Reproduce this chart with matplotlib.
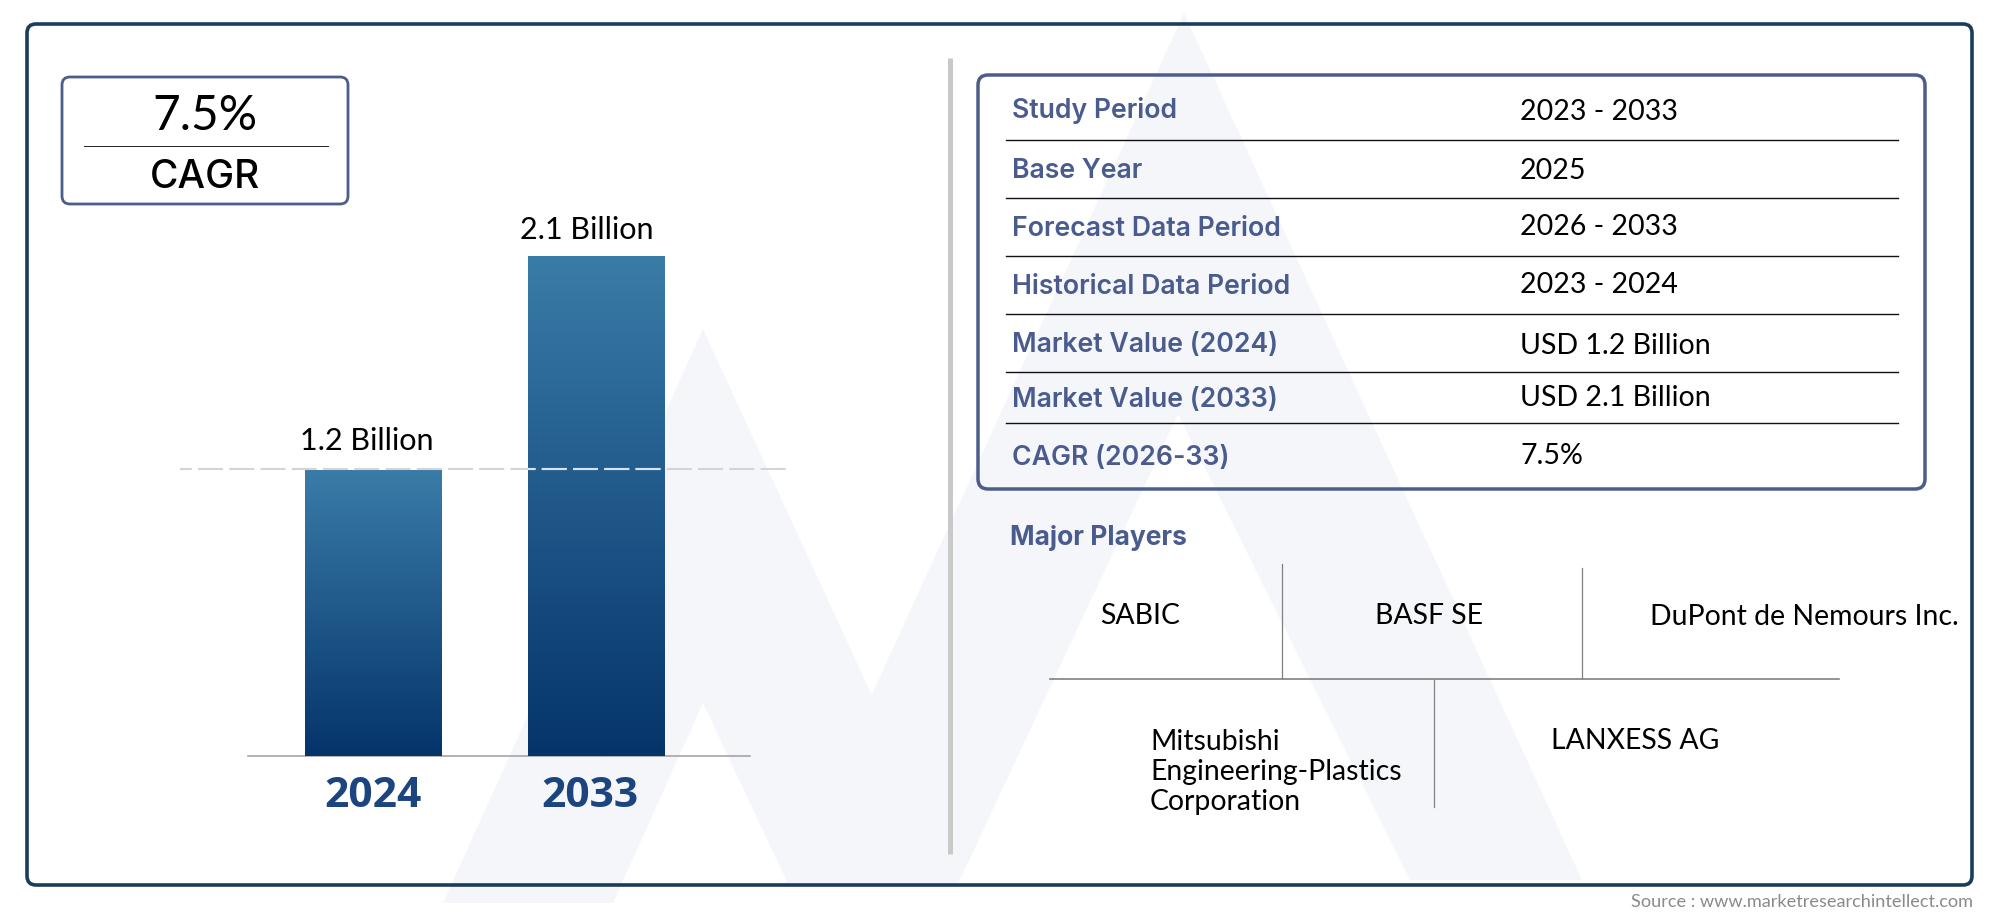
import numpy as np
import matplotlib
matplotlib.use("Agg")
import matplotlib.pyplot as plt
from matplotlib.patches import FancyBboxPatch, Polygon
from matplotlib.colors import LinearSegmentedColormap
from matplotlib.transforms import blended_transform_factory, ScaledTranslation

# ---------- data ----------
years = ["2024", "2033"]
market_values = [1.2, 2.1]
value_labels = ["1.2 Billion", "2.1 Billion"]
cagr_value = "7.5%"
cagr_label = "CAGR"
reference_level = 1.206

table_labels = ["Study Period", "Base Year", "Forecast Data Period", "Historical Data Period",
                "Market Value (2024)", "Market Value (2033)", "CAGR (2026-33)"]
table_values = ["2023 - 2033", "2025", "2026 - 2033", "2023 - 2024",
                "USD 1.2 Billion", "USD 2.1 Billion", "7.5%"]
players_title = "Major Players"
players = ["SABIC", "BASF SE", "DuPont de Nemours Inc.",
           "Mitsubishi\nEngineering-Plastics\nCorporation", "LANXESS AG"]
source_text = "Source : www.marketresearchintellect.com"

# ---------- styles ----------
W, H = 2000, 917
NAVY = "#1b3d5a"
SLATE = "#4c5c8b"
LABEL = "#4a5b8e"
VALUE_FONT = ["Lato", "DejaVu Sans"]
HEAD_FONT = ["Inter", "DejaVu Sans"]
YEAR_FONT = ["Open Sans", "DejaVu Sans"]
grad = LinearSegmentedColormap.from_list("bar", ["#05346b", "#3a7ca8"])

fig = plt.figure(figsize=(W / 100, H / 100), dpi=100, facecolor="white")
bg = fig.add_axes([0, 0, 1, 1], zorder=0)
bg.set_xlim(0, W)
bg.set_ylim(H, 0)
bg.axis("off")

# watermark
wm = "#f4f6fa"
bg.add_patch(Polygon([(1184, 13), (1582, 880), (1410, 880), (1178, 414), (958, 884), (785, 884)],
                     closed=True, fc=wm, ec="none", zorder=1))
bg.add_patch(Polygon([(703, 329), (959, 884), (788, 884), (703, 703), (613, 903), (443, 903)],
                     closed=True, fc=wm, ec="none", zorder=1))


def rbox(x0, y0, x1, y1, color, lw, r):
    bg.add_patch(FancyBboxPatch((x0, y0), x1 - x0, y1 - y0,
                                boxstyle=f"round,pad=0,rounding_size={r}",
                                fc="none", ec=color, lw=lw, zorder=3))


rbox(27, 24, 1972, 885, NAVY, 2.6, 9)
rbox(62, 77, 348, 204, SLATE, 2.0, 8)
rbox(978, 75, 1925, 489, SLATE, 2.5, 10)
bg.plot([950, 950], [58, 854], color="#c9c9c9", lw=3.6, solid_capstyle="butt", zorder=2)

# CAGR box
bg.plot([84, 328], [146, 146], color="#222222", lw=0.7, zorder=3)
bg.text(205, 116, cagr_value, ha="center", va="center", fontsize=34.5, family=VALUE_FONT, color="black", zorder=4)
bg.text(205, 177, cagr_label, ha="center", va="center", fontsize=28, family=HEAD_FONT,
        weight="medium", color="black", zorder=4)

# table
row_lines = [140, 198, 256, 314, 372, 423]
label_y = [110, 171, 229, 287, 345, 400, 458]
value_y = [112, 171, 227, 285, 346, 398, 456]
for y in row_lines:
    bg.plot([1006, 1898], [y, y], color="#111111", lw=1.0, zorder=3)
for txt, y in zip(table_labels, label_y):
    bg.text(1012, y, txt, ha="left", va="center", fontsize=19.2, family=HEAD_FONT,
            weight="semibold", color=LABEL, zorder=4)
for txt, y in zip(table_values, value_y):
    bg.text(1520, y, txt, ha="left", va="center", fontsize=20.5, family=VALUE_FONT, color="black", zorder=4)

# players
bg.text(1010, 538, players_title, ha="left", va="center", fontsize=19, family=HEAD_FONT,
        weight="bold", color=LABEL, zorder=4)
bg.plot([1050, 1839], [679, 679], color="#808080", lw=1.2, zorder=3)
for x, y0, y1 in [(1282, 564, 678), (1582, 568, 678), (1434, 680, 807)]:
    bg.plot([x, x], [y0, y1], color="#808080", lw=0.9, zorder=3)
player_pos = [(1100, 616), (1375, 616), (1650, 617), (1150, 772), (1551, 741)]
for txt, (x, y) in zip(players, player_pos):
    bg.text(x, y, txt, ha="left", va="center", fontsize=20.4, family=VALUE_FONT, color="black",
            linespacing=1.19, zorder=4)

bg.text(1973, 902, source_text, ha="right", va="center", fontsize=13.1, family=VALUE_FONT,
        color="#8a8a8a", zorder=4)

# ---------- bar chart ----------
px_left, px_right, px_top, px_bottom = 248, 750, 220, 756
ax = fig.add_axes([px_left / W, 1 - px_bottom / H, (px_right - px_left) / W, (px_bottom - px_top) / H], zorder=2)
ax.patch.set_alpha(0)
x = np.arange(len(years))
bars = ax.bar(x, market_values, width=0.61, color="#1d5a8c", linewidth=0, zorder=2)
xlim = (-0.5605, 1.69)
ylim = (0, (px_bottom - px_top) / 238.0)
for b in bars:
    x0, w, h = b.get_x(), b.get_width(), b.get_height()
    ax.imshow(np.linspace(1, 0, 256).reshape(-1, 1), cmap=grad, aspect="auto",
              extent=[x0, x0 + w, 0, h], zorder=3, vmin=0, vmax=1)
ax.set_xlim(*xlim)
ax.set_ylim(*ylim)
for s in ["top", "left", "right"]:
    ax.spines[s].set_visible(False)
ax.spines["bottom"].set_color("#9d9da3")
ax.spines["bottom"].set_linewidth(1.1)
ax.set_yticks([])
ax.set_xticks(x)
ax.set_xticklabels(years, fontsize=30.6, fontweight="bold", family=YEAR_FONT, color="#1c4580")
ax.tick_params(axis="x", length=0, pad=14.5)
label_dx = [0, -6]
for tick, dx in zip(ax.xaxis.get_major_ticks(), label_dx):
    tick.label1.set_transform(tick.label1.get_transform() + ScaledTranslation(dx / 100, 0, fig.dpi_scale_trans))

text_dx = [-6, -9]
text_dy = [29, 26]
for b, lab, dx, dy in zip(bars, value_labels, text_dx, text_dy):
    ax.annotate(lab, (b.get_x() + b.get_width() / 2, b.get_height()), xytext=(dx, dy),
                textcoords="offset pixels", ha="center", va="center", fontsize=22,
                family=VALUE_FONT, color="black", zorder=5, annotation_clip=False)

# dashed reference level across the chart
tr = blended_transform_factory(bg.transData, ax.transData)
dash = dict(lw=1.5, linestyle=(6.35, (12, 3)), dash_capstyle="butt", transform=tr, clip_on=False)
ax.plot([180, 788], [reference_level] * 2, color="#d4d4d8", zorder=4, **dash)
over = ax.plot([180, 788], [reference_level] * 2, color="#d5e4f2", zorder=5, **dash)[0]
over.set_clip_on(True)
over.set_clip_path(bars[1])

fig.savefig("out.png", dpi=100, facecolor="white")
